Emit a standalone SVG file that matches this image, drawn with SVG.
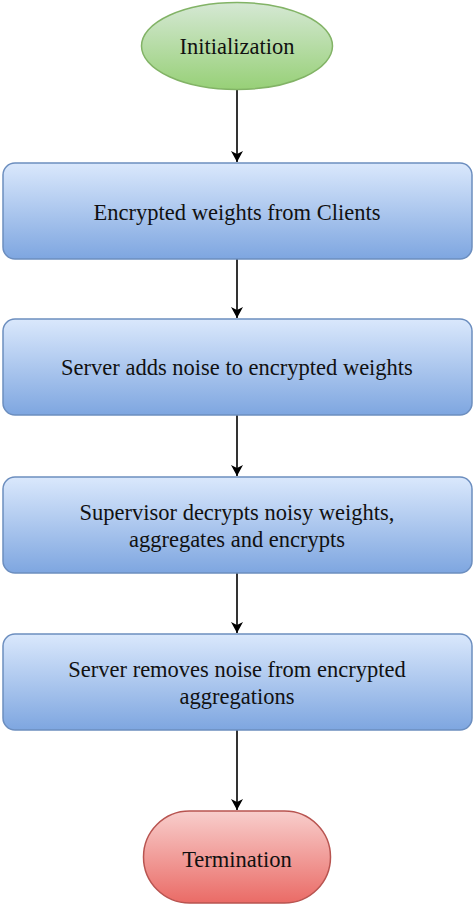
<svg xmlns="http://www.w3.org/2000/svg" width="474" height="907" viewBox="0 0 474 907">
<defs>
<linearGradient id="gGreen" x1="0" y1="0" x2="0" y2="1"><stop offset="0" stop-color="#d5e8d4"/><stop offset="1" stop-color="#97d077"/></linearGradient>
<linearGradient id="gBlue" x1="0" y1="0" x2="0" y2="1"><stop offset="0" stop-color="#dae8fc"/><stop offset="1" stop-color="#7ea6e0"/></linearGradient>
<linearGradient id="gRed" x1="0" y1="0" x2="0" y2="1"><stop offset="0" stop-color="#f8cecc"/><stop offset="1" stop-color="#ea6b66"/></linearGradient>
<marker id="arr" markerUnits="userSpaceOnUse" markerWidth="14" markerHeight="14" viewBox="0 0 14 14" refX="12" refY="7" orient="auto">
<path d="M1,1 L12,7 L1,13 L4,7 Z" fill="#000"/>
</marker>
</defs>
<style>
text{font-family:"Liberation Serif","Times New Roman",serif;font-size:22.5px;fill:#111;text-anchor:middle}
.box{fill:url(#gBlue);stroke:#6c8ebf;stroke-width:1.5}
.conn{stroke:#000;stroke-width:1.6;fill:none;marker-end:url(#arr)}
</style>
<g id="connectors">
<line class="conn" x1="237" y1="90" x2="237" y2="162"/>
<line class="conn" x1="237" y1="259" x2="237" y2="318"/>
<line class="conn" x1="237" y1="415" x2="237" y2="476"/>
<line class="conn" x1="237" y1="573" x2="237" y2="633"/>
<line class="conn" x1="237" y1="730" x2="237" y2="810"/>
</g>
<g id="init">
<ellipse cx="237" cy="46" rx="95.5" ry="43.5" fill="url(#gGreen)" stroke="#82b366" stroke-width="1.5"/>
<text x="237" y="54">Initialization</text>
</g>
<g id="step1">
<rect class="box" x="3" y="163" width="469" height="96" rx="12"/>
<text x="237" y="220">Encrypted weights from Clients</text>
</g>
<g id="step2">
<rect class="box" x="3" y="319" width="469" height="96" rx="12"/>
<text x="237" y="375">Server adds noise to encrypted weights</text>
</g>
<g id="step3">
<rect class="box" x="3" y="477" width="469" height="96" rx="12"/>
<text x="237" y="520">Supervisor decrypts noisy weights,</text>
<text x="237" y="547">aggregates and encrypts</text>
</g>
<g id="step4">
<rect class="box" x="3" y="634" width="469" height="96" rx="12"/>
<text x="237" y="677">Server removes noise from encrypted</text>
<text x="237" y="704">aggregations</text>
</g>
<g id="term">
<rect x="143.5" y="811" width="187" height="92" rx="46" ry="46" fill="url(#gRed)" stroke="#b85450" stroke-width="1.5"/>
<text x="237" y="867">Termination</text>
</g>
</svg>
